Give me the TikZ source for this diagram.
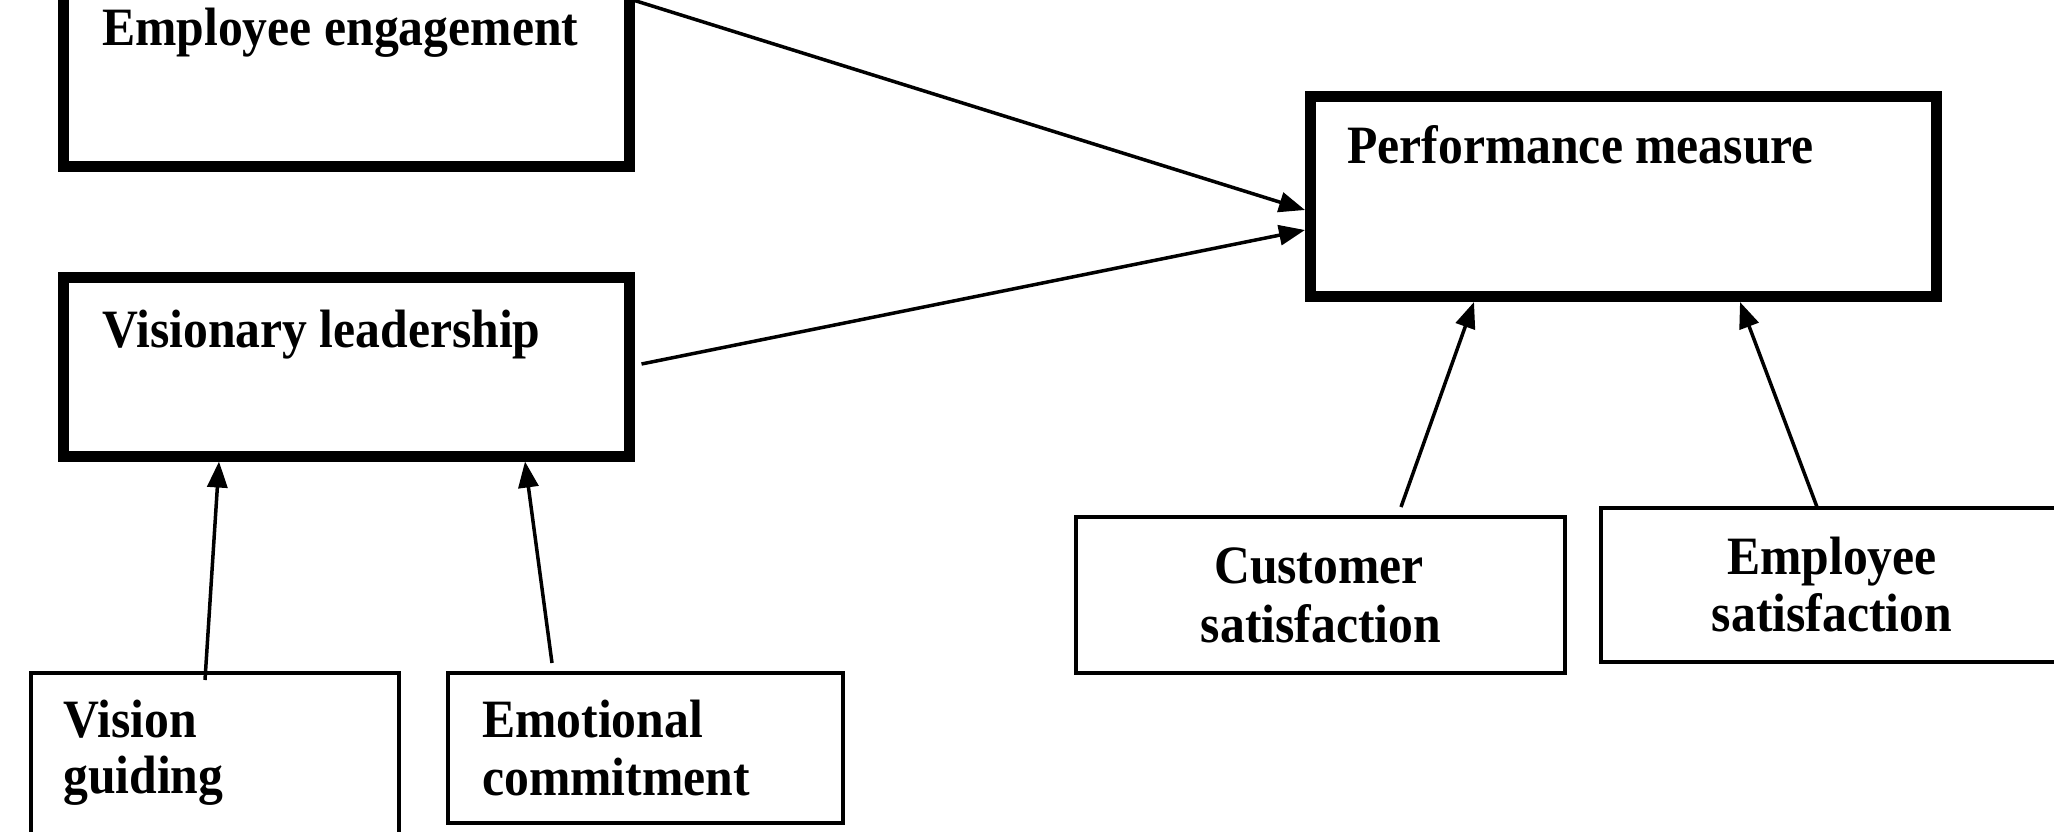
\documentclass[tikz,border=0pt]{standalone}
\usepackage{fontspec}
\newfontfamily\lblfont{Liberation Serif}[FakeStretch=0.92]
\usetikzlibrary{arrows.meta}
\begin{document}
\begin{tikzpicture}[x=1pt,y=-1pt,
  thickbox/.style={draw, line width=11pt, rectangle, inner sep=0pt},
  thinbox/.style={draw, line width=3.5pt, rectangle, inner sep=0pt},
  lbl/.style={font=\lblfont\bfseries\fontsize{54}{57}\selectfont, inner sep=0pt},
  conn/.style={line width=3.5pt, -{Triangle[length=26pt,width=20pt]}}]
\useasboundingbox (0,0) rectangle (2054,831);
\clip (0,0) rectangle (2054,831);
\fill[white] (0,0) rectangle (2054,831);
% boxes
\node[thickbox, minimum width=565.5pt, minimum height=186pt] (ee) at (346.25,73) {};
\node[thickbox, minimum width=565.5pt, minimum height=179pt] (vl) at (346.25,366.5) {};
\node[thickbox, minimum width=626pt, minimum height=200pt] (pm) at (1623.5,196.5) {};
\node[thinbox, minimum width=368pt, minimum height=227pt] (vg) at (215,786.5) {};
\node[thinbox, minimum width=395pt, minimum height=150pt] (ec) at (645.5,748) {};
\node[thinbox, minimum width=489pt, minimum height=156pt] (cs) at (1320.5,595) {};
\node[thinbox, minimum width=549pt, minimum height=154pt] (es) at (1875.5,585) {};
% labels
\node[lbl, anchor=base west] (eet) at (102,45) {Employee engagement};
\node[lbl, anchor=base west] (vlt) at (102,347) {Visionary leadership};
\node[lbl, anchor=base west] (pmt) at (1347,163) {Performance measure};
\node[lbl, anchor=base west] (vgt1) at (63,737) {Vision};
\node[lbl, anchor=base west] (vgt2) at (63,793) {guiding};
\node[lbl, anchor=base west] (ect1) at (482,737) {Emotional};
\node[lbl, anchor=base west] (ect2) at (482,795) {commitment};
\node[lbl, anchor=base] (cst1) at (1319,583) {Customer};
\node[lbl, anchor=base] (cst2) at (1321,642) {satisfaction};
\node[lbl, anchor=base] (est1) at (1832,574) {Employee};
\node[lbl, anchor=base] (est2) at (1832,631) {satisfaction};
% free ends of connectors
\coordinate (s1) at (633,0);
\coordinate (s2) at (641.5,364);
\coordinate (s3) at (205,680);
\coordinate (s4) at (552,663);
\coordinate (s5) at (1401,507);
\coordinate (s6) at (1817,507);
% connectors
\draw[conn] (s1) -- ([yshift=-13.5pt]pm.west);
\draw[conn] (s2) -- ([yshift=-33.5pt]pm.west);
\draw[conn] (s3) -- ([xshift=-127.25pt]vl.south);
\draw[conn] (s4) -- ([xshift=178.75pt]vl.south);
\draw[conn] (s5) -- ([xshift=-149.5pt]pm.south);
\draw[conn] (s6) -- ([xshift=116.5pt]pm.south);
\end{tikzpicture}
\end{document}
